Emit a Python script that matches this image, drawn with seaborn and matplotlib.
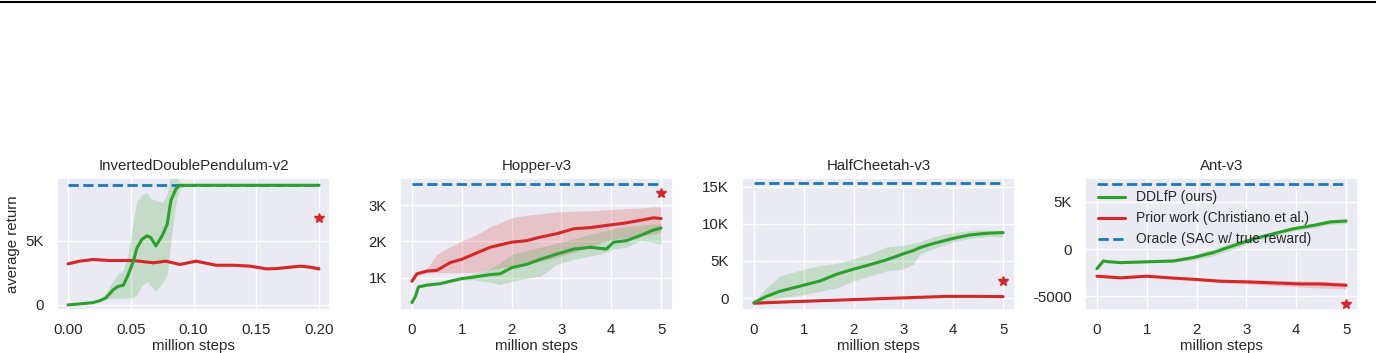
import numpy as np
import seaborn as sns
import matplotlib.pyplot as plt
from matplotlib.lines import Line2D

sns.set_theme(style='darkgrid')
plt.rcParams['font.family'] = ['Liberation Sans', 'DejaVu Sans']

GREEN = '#2ca02c'
RED = '#d62728'
BLUE = '#1f77b4'

# InvertedDoublePendulum-v2
idp_x = [0, 0.01, 0.02, 0.025, 0.03, 0.036, 0.04, 0.044, 0.048, 0.052, 0.055, 0.059,
         0.063, 0.066, 0.07, 0.075, 0.079, 0.082, 0.086, 0.089, 0.095, 0.1, 0.15, 0.2]
idp_ours = [0, 80, 180, 320, 530, 1180, 1450, 1530, 2370, 3400, 4470, 5130,
            5400, 5260, 4610, 5400, 6300, 8160, 9080, 9340, 9350, 9350, 9350, 9350]
idp_ours_hi = [0, 90, 200, 400, 900, 1900, 2400, 2700, 4000, 6500, 8150, 8600,
               8800, 8300, 8150, 8000, 8700, 10200, 10200, 9600, 9380, 9370, 9370, 9370]
idp_ours_lo = [0, 70, 160, 260, 450, 520, 540, 540, 530, 540, 800, 1500,
               1840, 1500, 1050, 1700, 2370, 5000, 8000, 9100, 9300, 9330, 9330, 9330]
idp_prior_x = [0, 0.0093, 0.02, 0.033, 0.052, 0.068, 0.078, 0.089, 0.102, 0.118,
               0.132, 0.145, 0.158, 0.166, 0.177, 0.185, 0.193, 0.2]
idp_prior = [3210, 3420, 3550, 3470, 3470, 3290, 3420, 3160, 3420, 3100,
             3100, 3030, 2820, 2840, 2950, 3030, 2950, 2820]
idp_prior_hi = [3300, 3500, 3630, 3550, 3550, 3370, 3500, 3240, 3500, 3180,
                3190, 3120, 2920, 2940, 3050, 3130, 3070, 2960]
idp_prior_lo = [3120, 3340, 3470, 3390, 3390, 3210, 3340, 3080, 3340, 3020,
                3010, 2940, 2720, 2740, 2850, 2930, 2830, 2680]

# Hopper-v3
hop_x = [0, 0.07, 0.13, 0.3, 0.57, 0.77, 1.0, 1.24, 1.57, 1.77, 2.0, 2.3, 2.58,
         2.9, 3.25, 3.58, 3.9, 4.05, 4.3, 4.58, 4.82, 5.0]
hop_ours = [320, 490, 750, 800, 840, 907, 980, 1020, 1090, 1110, 1280, 1370, 1510,
            1650, 1790, 1840, 1790, 1980, 2020, 2160, 2300, 2370]
hop_ours_hi = [340, 520, 780, 830, 870, 940, 1010, 1120, 1250, 1400, 1650, 1750, 1840,
               1950, 2070, 2200, 2300, 2350, 2400, 2440, 2480, 2490]
hop_ours_lo = [300, 460, 720, 770, 810, 870, 940, 950, 880, 815, 907, 980, 1050,
               1370, 1510, 1600, 1700, 1800, 1840, 2020, 1980, 1930]
hop_prior_x = [0, 0.1, 0.3, 0.5, 0.77, 1.0, 1.24, 1.57, 2.0, 2.3, 2.58, 2.9, 3.25,
               3.58, 3.9, 4.25, 4.58, 4.85, 5.0]
hop_prior = [907, 1110, 1186, 1205, 1420, 1510, 1650, 1840, 1980, 2020, 2120, 2210, 2350,
             2380, 2440, 2500, 2580, 2650, 2630]
hop_prior_hi = [950, 1150, 1250, 1650, 1850, 2020, 2150, 2400, 2650, 2720, 2760, 2810, 2830,
                2840, 2870, 2900, 2920, 2950, 2950]
hop_prior_lo = [860, 1070, 1130, 1140, 1140, 1140, 1150, 1230, 1330, 1400, 1460, 1560, 1700,
                1850, 2020, 2100, 2160, 2200, 2250]

# HalfCheetah-v3
hc_x = [0, 0.25, 0.52, 1.0, 1.32, 1.66, 2.0, 2.33, 2.66, 3.0, 3.2, 3.33, 3.6, 4.0,
        4.33, 4.67, 5.0]
hc_ours = [-600, 230, 920, 1740, 2290, 3210, 3900, 4500, 5140, 5960, 6400, 6790, 7340,
           8030, 8490, 8720, 8810]
hc_ours_hi = [-550, 1380, 2980, 3900, 4360, 4680, 5280, 5960, 6880, 7110, 7400, 7570, 8260,
              8810, 9080, 9170, 9080]
hc_ours_lo = [-650, -460, 0, 460, 920, 1380, 2290, 2980, 3670, 3900, 4590, 5960, 6650,
              7570, 8030, 8260, 8260]
hc_prior_x = [0, 0.86, 1.86, 2.86, 3.86, 4.5, 5.0]
hc_prior = [-690, -460, -230, 0, 230, 230, 200]
hc_prior_hi = [-600, -350, -100, 150, 400, 420, 400]
hc_prior_lo = [-780, -570, -360, -150, 60, 40, 0]

# Ant-v3
ant_x = [0, 0.13, 0.2, 0.47, 1.14, 1.54, 1.94, 2.34, 2.74, 3.14, 3.54, 3.94, 4.35, 4.68, 5.0]
ant_ours = [-2070, -1250, -1320, -1430, -1320, -1250, -890, -360, 360, 1070, 1610, 2140,
            2500, 2860, 2960]
ant_ours_hi = [-1950, -1150, -1220, -1330, -1200, -1100, -600, 0, 750, 1350, 1850, 2350,
               2750, 3100, 3250]
ant_ours_lo = [-2200, -1350, -1420, -1530, -1440, -1400, -1150, -700, -20, 800, 1380, 1930,
               2250, 2620, 2700]
ant_prior_x = [0, 0.47, 1.0, 1.47, 2.0, 2.47, 3.0, 3.54, 4.08, 4.48, 5.0]
ant_prior = [-2860, -3040, -2860, -3040, -3210, -3390, -3460, -3570, -3680, -3680, -3820]
ant_prior_hi = [-2780, -2950, -2770, -2950, -3100, -3250, -3250, -3300, -3350, -3400, -3500]
ant_prior_lo = [-2940, -3130, -2950, -3130, -3320, -3530, -3670, -3850, -4000, -4100, -4200]

titles = ['InvertedDoublePendulum-v2', 'Hopper-v3', 'HalfCheetah-v3', 'Ant-v3']
oracle = [9370, 3580, 15460, 6860]
star_x = [0.2, 5, 5, 5]
star_y = [6825, 3344, 2290, -5820]
yticks = [[0, 5000], [1000, 2000, 3000], [0, 5000, 10000, 15000], [-5000, 0, 5000]]
ytick_labels = [['0', '5K'], ['1K', '2K', '3K'], ['0', '5K', '10K', '15K'], ['-5000', '0', '5K']]
xticks = [[0, 0.05, 0.1, 0.15, 0.2], [0, 1, 2, 3, 4, 5], [0, 1, 2, 3, 4, 5], [0, 1, 2, 3, 4, 5]]
xtick_labels = [['0.00', '0.05', '0.10', '0.15', '0.20'], ['0', '1', '2', '3', '4', '5'],
                ['0', '1', '2', '3', '4', '5'], ['0', '1', '2', '3', '4', '5']]
ylims = [(-400, 9920), (116, 3744), (-1600, 16150), (-6430, 7500)]
xlims = [(-0.0088, 0.2088), (-0.24, 5.24), (-0.24, 5.24), (-0.24, 5.24)]

data = [
    (idp_x, idp_ours, idp_ours_lo, idp_ours_hi, idp_prior_x, idp_prior, idp_prior_lo, idp_prior_hi),
    (hop_x, hop_ours, hop_ours_lo, hop_ours_hi, hop_prior_x, hop_prior, hop_prior_lo, hop_prior_hi),
    (hc_x, hc_ours, hc_ours_lo, hc_ours_hi, hc_prior_x, hc_prior, hc_prior_lo, hc_prior_hi),
    (ant_x, ant_ours, ant_ours_lo, ant_ours_hi, ant_prior_x, ant_prior, ant_prior_lo, ant_prior_hi),
]

fig = plt.figure(figsize=(13.76, 3.53), dpi=100)
lefts = [57, 400, 742, 1085]
fs = 10.8

for i in range(4):
    ax = fig.add_axes([lefts[i] / 1376, 43 / 353, 273 / 1376, 132 / 353])
    x, m, lo, hi, px, pm, plo, phi = data[i]

    sns.lineplot(x=[0, star_x[i]], y=[oracle[i], oracle[i]], ax=ax, color=BLUE,
                 linestyle='--', lw=2, label='Oracle (SAC w/ true reward)')
    ax.fill_between(px, plo, phi, color=RED, alpha=0.2, lw=0)
    sns.lineplot(x=px, y=pm, ax=ax, color=RED, lw=2.2, label='Prior work (Christiano et al.)')
    ax.fill_between(x, lo, hi, color=GREEN, alpha=0.2, lw=0)
    sns.lineplot(x=x, y=m, ax=ax, color=GREEN, lw=2.2, label='DDLfP (ours)')
    ax.plot(star_x[i], star_y[i], marker='*', color=RED, ms=7, ls='none')

    ax.set_xlim(xlims[i])
    ax.set_ylim(ylims[i])
    ax.set_xticks(xticks[i])
    ax.set_xticklabels(xtick_labels[i], fontsize=fs)
    ax.set_yticks(yticks[i])
    ax.set_yticklabels(ytick_labels[i], fontsize=fs)
    ax.set_title(titles[i], fontsize=fs)
    ax.set_xlabel('million steps', fontsize=fs, labelpad=1)
    if i == 0:
        ax.set_ylabel('average return', fontsize=fs)
    else:
        ax.set_ylabel('')

    if i == 3:
        h, l = ax.get_legend_handles_labels()
        ax.legend([h[2], h[1], h[0]], [l[2], l[1], l[0]], loc='upper left',
                  frameon=False, fontsize=10)
    else:
        ax.get_legend().remove()

# rule across the top of the page
fig.add_artist(Line2D([0, 1], [1 - 2 / 353, 1 - 2 / 353], transform=fig.transFigure,
                      color='black', lw=1.5))

plt.savefig('out.png', dpi=100)
